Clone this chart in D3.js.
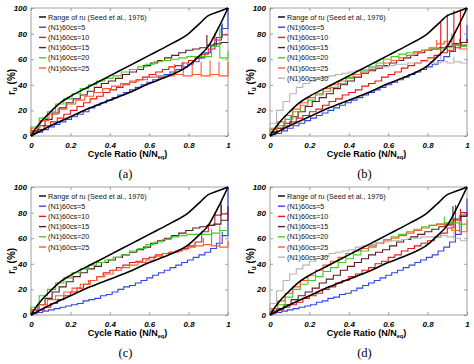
<!DOCTYPE html>
<html>
<head>
<meta charset="utf-8">
<script src="https://cdn.jsdelivr.net/npm/d3@7"></script>
<style>
  body { margin: 0; background: #fff; }
  .tick text { font-family: "Liberation Sans", Arial, sans-serif; font-size: 8px; font-weight: bold; font-style: italic; fill: #000; }
  .tick line { stroke: #8a8a8a; stroke-width: 0.8; }
  .frame { fill: none; stroke: #8a8a8a; stroke-width: 0.8; }
  .legend text { font-family: "Liberation Sans Narrow", "Liberation Sans", sans-serif; font-size: 7.2px; fill: #111; }
  .title { font-family: "Liberation Sans", Arial, sans-serif; font-size: 9px; font-weight: bold; }
  .ytitle { font-family: "Liberation Sans", Arial, sans-serif; font-size: 10px; font-weight: bold; }
  .plabel { font-family: "Liberation Serif", serif; font-size: 12.5px; }
</style>
</head>
<body>
<svg id="chart" width="474" height="364"></svg>
<script>
// Seed et al. (1976) range of ru
var seedX = [0, 0.02, 0.05, 0.1, 0.15, 0.2, 0.3, 0.4, 0.5, 0.6, 0.7, 0.8, 0.85, 0.9, 0.95, 1];
var seedUpper = [0, 5, 11, 19, 26, 31, 39, 47, 55, 63, 71, 80, 87, 94, 97, 100];
var seedLowerX = [0, 0.1, 0.2, 0.3, 0.4, 0.5, 0.6, 0.7, 0.8, 0.85, 0.9, 0.95, 1];
var seedLower = [0, 8, 15, 22, 28, 34, 41, 47, 55, 62, 70, 84, 100];

var xTicks = [0, 0.2, 0.4, 0.6, 0.8, 1];
var yTicks = [0, 20, 40, 60, 80, 100];
var csValues = [5, 10, 15, 20, 25, 30];

// ru level per cycle, and [cycle, peak ru] spikes
var a5 = [2,3,5,7,9,11,13,15,17,19,22,24,26,28,30,32,34,36,38,40,42,44,46,48,50,52,54,56,58,61,65,70,77,84];
var a5Peaks = [[32, 88], [33, 100]];
var a10 = [3,5,8,11,14,17,20,23,26,29,31,34,36,38,40,42,44,46,48,50,52,54,55,57,59,61,64,68,75,79];
var a10Peaks = [[27, 80], [28, 87]];
var a15 = [4,8,13,18,22,26,29,32,35,38,41,43,45,48,50,52,55,57,59,61,63,65,67,68,69,71,72,73];
var a15Peaks = [[24, 79]];
var a20 = [7,14,19,25,29,33,37,40,43,45,47,50,52,54,56,58,59,60,61,62,62,62,70,61];
var a20Peaks = [[22, 84], [23, 66]];
var a25 = [6,12,17,21,25,28,31,34,37,39,41,43,44,46,47,47,48,47,48,47,48,47];
var a25Peaks = [[15, 56], [16, 58], [17, 57], [18, 58], [19, 59], [20, 58], [21, 58]];

var b5 = [1,2,4,6,8,10,12,14,16,18,20,22,24,26,28,30,32,34,36,38,40,42,44,46,48,50,52,54,56,59,62,66,72,73];
var b5Peaks = [[31, 70], [33, 87]];
var b10 = [3,6,8,11,14,16,19,21,24,27,29,32,34,36,39,41,43,46,48,50,53,55,57,59,61,63,65,67,69,71];
var b10Peaks = [[25, 89], [26, 95], [27, 98], [28, 99]];
var b15 = [3,6,10,15,19,23,27,30,33,37,40,43,46,49,51,53,55,57,59,61,63,65,67,68,69,70,72,73];
var b15Peaks = [[26, 76], [27, 76]];
var b20 = [5,8,13,19,24,28,32,35,38,41,45,48,51,54,57,60,62,64,65,66,67,68,68,69,71,70];
var b20Peaks = [[24, 73]];
var b25 = [6,11,16,21,26,30,33,37,40,43,46,48,50,52,55,57,59,61,63,65,67,69,72,74,71,68];
var b25Peaks = [[21, 75], [23, 80]];
var b30 = [10,20,27,33,38,41,43,45,46,47,48,49,50,51,52,53,54,54,55,56,56,57,57,58,58,57,58,57,58,57];
var b30Peaks = [[23, 62], [25, 63], [27, 62], [29, 60]];

var c5 = [1,2,3,4,5,6,7,8,9,11,12,13,15,16,18,20,22,23,25,27,29,31,33,35,37,39,41,43,45,47,49,52,56,62];
var c5Peaks = [[32, 65], [33, 100]];
var c10 = [2,4,6,9,12,15,18,21,24,27,30,33,35,37,39,41,42,44,45,47,48,49,50,52,54,57,65,70,78,79];
var c10Peaks = [[27, 80], [28, 86]];
var c15 = [4,8,13,18,22,26,30,33,36,38,41,43,45,47,49,51,53,56,58,60,62,64,66,68,69,70,71,74];
var c15Peaks = [[26, 88], [27, 85]];
var c20 = [6,15,20,25,29,33,36,39,41,43,45,47,50,52,55,57,59,61,62,63,63,63,64,66];
var c20Peaks = [[21, 67], [22, 70]];
var c25 = [4,8,12,15,18,21,24,27,30,32,35,37,39,41,43,46,48,49,51,53,54,55,54,53];
var c25Peaks = [[19, 57], [20, 60], [21, 64], [22, 63], [23, 58]];

var d5 = [1,2,3,4,5,6,7,8,10,11,13,14,16,17,19,21,23,25,27,29,31,33,35,37,39,41,43,45,47,50,53,57,63,78];
var d5Peaks = [[31, 86], [33, 91]];
var d10 = [2,4,6,8,10,13,15,17,20,22,25,27,30,32,35,37,40,42,45,47,50,52,54,56,58,61,64,68,74,80];
var d10Peaks = [[28, 83]];
var d15 = [3,5,8,12,15,18,21,25,28,31,35,38,41,44,47,49,51,54,57,59,61,63,65,67,69,71,75,77];
var d15Peaks = [[25, 85], [27, 80]];
var d20 = [5,8,14,20,24,27,30,34,37,41,44,47,50,53,56,59,61,63,65,67,69,70,71,72,72,71];
var d20Peaks = [[22, 77]];
var d25 = [5,11,17,22,27,31,35,39,42,45,48,50,52,54,56,58,60,62,64,66,68,70,71,70,66,65];
var d25Peaks = [[23, 74], [24, 78], [25, 75]];
var d30 = [9,19,27,32,36,39,42,44,46,48,49,50,51,53,54,55,56,57,58,58,59,60,60,61,61,61,62,61,60,58];
var d30Peaks = [[25, 65], [27, 66], [29, 62]];

var colors = { 5: '#2f45e8', 10: '#e8161b', 15: '#5a1c22', 20: '#3dd11f', 25: '#ff5a2e', 30: '#b5b5b5' };

var panels = [
  { label: '(a)', left: 31,  top: 8,   levels: [a5, a10, a15, a20, a25], peaks: [a5Peaks, a10Peaks, a15Peaks, a20Peaks, a25Peaks] },
  { label: '(b)', left: 270, top: 8,   levels: [b5, b10, b15, b20, b25, b30], peaks: [b5Peaks, b10Peaks, b15Peaks, b20Peaks, b25Peaks, b30Peaks] },
  { label: '(c)', left: 31,  top: 187, levels: [c5, c10, c15, c20, c25], peaks: [c5Peaks, c10Peaks, c15Peaks, c20Peaks, c25Peaks] },
  { label: '(d)', left: 270, top: 187, levels: [d5, d10, d15, d20, d25, d30], peaks: [d5Peaks, d10Peaks, d15Peaks, d20Peaks, d25Peaks, d30Peaks] }
];

var width = 197, height = 128;

var svg = d3.select('#chart');

// staircase: one level per cycle, optional spike at the end of a cycle
function stairs(levels, peaks) {
  var n = levels.length;
  var pk = new Map(peaks);
  var pts = [[0, 0]];
  levels.forEach(function(v, i){
    pts.push([i / n, v]);
    pts.push([(i + 1) / n, v]);
    if (pk.has(i)) {
      pts.push([(i + 1) / n, pk.get(i)]);
      pts.push([(i + 1) / n, v]);
    }
  });
  return pts;
}

var fmtX = function(d){ return (d === 0 || d === 1) ? String(d) : d3.format('.1f')(d); };

panels.forEach(function(p){
  var g = svg.append('g').attr('transform', 'translate(' + p.left + ',' + p.top + ')');

  var x = d3.scaleLinear().domain([0, 1]).range([0, width]);
  var y = d3.scaleLinear().domain([0, 100]).range([height, 0]);

  var line = d3.line()
    .x(function(d){ return x(d[0]); })
    .y(function(d){ return y(d[1]); });

  g.append('g').attr('transform', 'translate(0,' + height + ')')
    .call(d3.axisBottom(x).tickValues(xTicks).tickFormat(fmtX).tickSizeInner(-3).tickSizeOuter(0).tickPadding(6));
  g.append('g')
    .call(d3.axisLeft(y).tickValues(yTicks).tickSizeInner(-3).tickSizeOuter(0).tickPadding(4));
  g.append('g')
    .call(d3.axisTop(x).tickValues(xTicks).tickFormat('').tickSizeInner(-3).tickSizeOuter(0));
  g.append('g').attr('transform', 'translate(' + width + ',0)')
    .call(d3.axisRight(y).tickValues(yTicks).tickFormat('').tickSizeInner(-3).tickSizeOuter(0));
  g.selectAll('.domain').remove();

  g.append('rect').attr('class', 'frame').attr('width', width).attr('height', height);

  // measured series
  p.levels.forEach(function(levels, i){
    g.append('path')
      .datum(stairs(levels, p.peaks[i]))
      .attr('fill', 'none')
      .attr('stroke', colors[csValues[i]])
      .attr('stroke-width', 1.1)
      .attr('d', line);
  });

  // Seed et al. range
  var curve = d3.line()
    .x(function(d){ return x(d[0]); })
    .y(function(d){ return y(d[1]); })
    .curve(d3.curveMonotoneX);
  [[seedX, seedUpper], [seedLowerX, seedLower]].forEach(function(s){
    g.append('path')
      .datum(s[0].map(function(v, i){ return [v, s[1][i]]; }))
      .attr('fill', 'none')
      .attr('stroke', '#000')
      .attr('stroke-width', 1.6)
      .attr('d', curve);
  });

  // legend
  var names = ['Range of ru (Seed et al., 1976)'].concat(p.levels.map(function(d, i){ return '(N1)60cs=' + csValues[i]; }));
  var cols = ['#000'].concat(p.levels.map(function(d, i){ return colors[csValues[i]]; }));
  var leg = g.append('g').attr('class', 'legend').attr('transform', 'translate(8,9)');
  names.forEach(function(n, i){
    var r = leg.append('g').attr('transform', 'translate(0,' + (i * 10.2) + ')');
    r.append('line').attr('x1', 0).attr('x2', 7).attr('stroke', cols[i]).attr('stroke-width', 1.4);
    r.append('text').attr('x', 9).attr('dy', '0.35em').text(n);
  });

  // axis titles
  var yt = g.append('text').attr('class', 'ytitle')
    .attr('text-anchor', 'middle')
    .attr('transform', 'translate(-16,' + (height / 2 + 10) + ') rotate(-90)');
  yt.append('tspan').text('r');
  yt.append('tspan').attr('font-size', '6.5px').attr('dy', 2).text('u');
  yt.append('tspan').attr('dy', -2).text(' (%)');

  var xt = g.append('text').attr('class', 'title')
    .attr('text-anchor', 'middle')
    .attr('x', width / 2 - 2).attr('y', height + 21);
  xt.append('tspan').text('Cycle Ratio (N/N');
  xt.append('tspan').attr('font-size', '5.5px').attr('dy', 2).text('eq');
  xt.append('tspan').attr('dy', -2).text(')');

  g.append('text').attr('class', 'plabel')
    .attr('text-anchor', 'middle')
    .attr('x', width / 2 - 4).attr('y', height + 42)
    .text(p.label);
});
</script>
</body>
</html>
